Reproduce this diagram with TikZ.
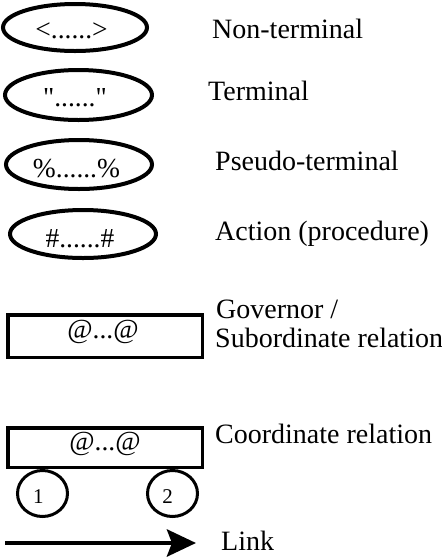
\documentclass[tikz,border=0pt]{standalone}
\usepackage{fontspec}
\setmainfont{Liberation Serif}
\newfontfamily\plainserif{Liberation Serif}[Ligatures=TeXOff]
\usetikzlibrary{shapes.geometric,arrows.meta}
\begin{document}
\begin{tikzpicture}[x=1pt,y=-1pt,
  sym/.style={draw,ellipse,line width=4pt,inner sep=0pt},
  lab/.style={anchor=base west,inner sep=0pt,font=\fontsize{28}{30}\selectfont},
  txt/.style={anchor=base,inner sep=0pt,font=\fontsize{27.5}{30}\selectfont},
  box/.style={draw,rectangle,line width=3.5pt,inner sep=0pt,minimum width=194.5pt},
  num/.style={draw,ellipse,line width=3pt,inner sep=0pt,minimum width=50pt,minimum height=46pt},
  numtxt/.style={anchor=base,inner sep=0pt,font=\fontsize{21}{24}\selectfont},
]
\useasboundingbox (0,0) rectangle (442,558);

% ellipses
\node[sym,minimum width=144pt,minimum height=47pt] (e1) at (75,27.5) {};
\node[txt] (t1) at (71.5,38) {<......>};
\node[sym,minimum width=147pt,minimum height=50pt] (e2) at (78.5,95) {};
\node[txt,font=\fontsize{27.5}{30}\plainserif] (t2) at (75,106.5) {"......"};
\node[sym,minimum width=146pt,minimum height=49pt] (e3) at (79,164.5) {};
\node[txt] (t3) at (76.5,177.5) {\%......\%};
\node[sym,minimum width=146pt,minimum height=48pt] (e4) at (83,234) {};
\node[txt] (t4) at (80,247) {\#......\#};

% boxes
\node[box,minimum height=42.5pt] (r1) at (105,336) {};
\node[txt] (tr1) at (103,338) {@...@};
\node[num] (c1) at (42.5,493.5) {};
\node[num] (c2) at (172.5,493.5) {};
\node[numtxt] (n1) at (38.5,503) {1};
\node[numtxt] (n2) at (167.5,503) {2};
\node[box,minimum height=39.5pt,fill=white] (r2) at (105,447.5) {};
\node[txt] (tr2) at (105,450) {@...@};

% arrow
\coordinate (as) at (5,543);
\coordinate (ae) at (196,543);
\draw[line width=4.8pt,-{Stealth[length=29pt,width=27pt,inset=5pt]}] (as) -- (ae);

% labels
\node[lab] (l1) at (212,38) {Non-terminal};
\node[lab] (l2) at (208,100) {Terminal};
\node[lab] (l3) at (215,170) {Pseudo-terminal};
\node[lab] (l4) at (215,240) {Action (procedure)};
\node[lab] (l5) at (216,318) {Governor /};
\node[lab] (l6) at (215,347) {Subordinate relation};
\node[lab] (l7) at (215,443) {Coordinate relation};
\node[lab] (l8) at (221,550) {Link};
\end{tikzpicture}
\end{document}
